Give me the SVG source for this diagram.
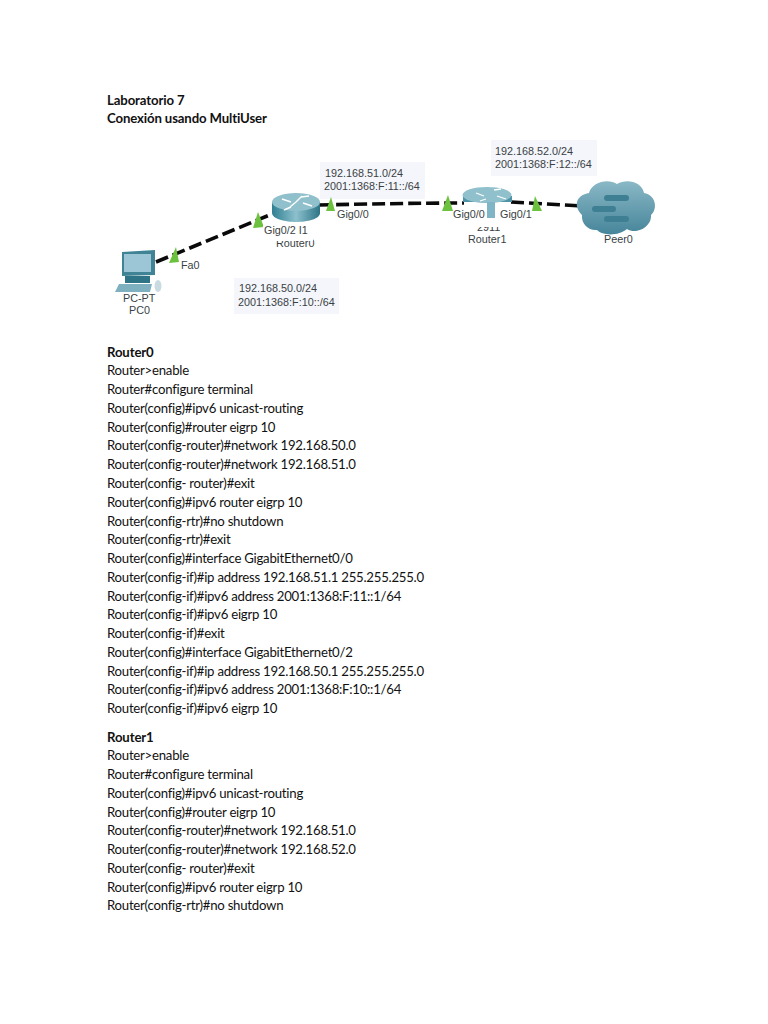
<svg xmlns="http://www.w3.org/2000/svg" width="768" height="1024" viewBox="0 0 768 1024">
<style>
.t{font-family:"Lato","Liberation Sans",sans-serif;font-size:13.2px;letter-spacing:-.25px;fill:#111}
.b{font-weight:700;letter-spacing:-.13px}
.n{font-family:"Liberation Sans",Arial,sans-serif;font-size:10.8px;fill:#3a3f44}
.lab{fill:#f4f6fb}
.w{fill:#fff}
.link{stroke:#0a0a0a;stroke-width:3.6;fill:none;stroke-dasharray:13 5}
.tri{fill:#6cc23f}
</style>
<defs>
<linearGradient id="rg" x1="0" y1="0" x2="1" y2="0"><stop offset="0" stop-color="#2f7f92"/><stop offset=".5" stop-color="#8cc0cc"/><stop offset="1" stop-color="#2c7486"/></linearGradient>
<linearGradient id="cl" x1="0" y1="0" x2="0" y2="1"><stop offset="0" stop-color="#8ab8c6"/><stop offset="1" stop-color="#46859a"/></linearGradient>
</defs>
<rect width="768" height="1024" fill="#fff"/>
<rect class="lab" x="320" y="162" width="105" height="37"/>
<rect class="lab" x="491" y="140" width="106" height="36"/>
<rect class="lab" x="234" y="278" width="105" height="36"/>
<g id="connectors">
<path class="link" d="M156 262L272 214"/>
<path class="link" d="M318 205C370 204 420 203 464 203"/>
<path class="link" d="M511 202L582 206"/>
<polygon class="tri" points="176,247 169,263 179,262"/>
<polygon class="tri" points="258,212 253,228 264,227"/>
<polygon class="tri" points="331,197 326,211 335,211"/>
<polygon class="tri" points="448,195 442,211 453,211"/>
<polygon class="tri" points="535,196 532,211 542,211"/>
</g>
<g id="pc0">
<path d="M122 252L155 250L155 275L122 276Z" fill="#3f8394"/>
<rect x="124" y="254" width="27" height="18" fill="#9cc6d6"/>
<path d="M125 276H150V283H125Z" fill="#2f7386"/>
<path d="M119 284H152L150 292H115Z" fill="#7fb0bf"/>
<ellipse cx="158" cy="286" rx="3.500" ry="6" fill="#c9dbe0"/>
<text class="n" x="123" y="302">PC-PT</text>
<text class="n" x="129" y="314">PC0</text>
<text class="n" x="181" y="269">Fa0</text>
</g>
<g id="router0">
<path d="M272 202V213C272 219 286 222 296 222C307 222 320 219 320 213V202Z" fill="url(#rg)"/>
<ellipse cx="296" cy="202" rx="24" ry="9" fill="#8fc0cc"/>
<path d="M282 199l9 3M291 207l-7 3M301 197l8-1M303 203l9 3M296 202l6-6M296 202l-6 5" stroke="#fff" stroke-width="1.400" fill="none"/>
<text class="n" x="276" y="247">Router0</text>
<rect class="w" x="263" y="224" width="50" height="17"/>
<text class="n" x="264" y="234">Gig0/2 I1</text>
<text class="n" x="337" y="218">Gig0/0</text>
</g>
<g id="router1">
<path d="M463 196V202H512V196Z" fill="#4f94a6"/>
<ellipse cx="487" cy="195" rx="24.500" ry="8" fill="#8fc0cc"/>
<path d="M476 193l8 3M486 199l-6 2M494 190l7-1M497 196l9 3" stroke="#fff" stroke-width="1.300" fill="none"/>
<rect x="487" y="202" width="8" height="16" fill="#7fb5c4"/>
<text class="n" x="477" y="231">2911</text>
<rect class="w" x="470" y="219" width="35" height="8"/>
<text class="n" x="453" y="218">Gig0/0</text>
<text class="n" x="500" y="218">Gig0/1</text>
<text class="n" x="468" y="243">Router1</text>
</g>
<g id="peer0">
<path d="M582 215C573 206 576 195 589 193C592 182 608 178 617 184C627 178 642 182 644 193C656 195 658 209 651 215C652 227 636 235 627 229C619 236 603 236 597 230C589 231 581 224 582 215Z" fill="url(#cl)"/>
<rect x="604" y="195" width="25" height="6" rx="3" fill="#3f7f93"/>
<rect x="592" y="206" width="24" height="6" rx="3" fill="#3f7f93"/>
<rect x="604" y="216" width="25" height="6" rx="3" fill="#3f7f93"/>
<text class="n" x="604" y="243">Peer0</text>
</g>
<g id="labels">
<text class="n" x="325" y="177">192.168.51.0/24</text>
<text class="n" x="324" y="190">2001:1368:F:11::/64</text>
<text class="n" x="495" y="155">192.168.52.0/24</text>
<text class="n" x="495" y="168">2001:1368:F:12::/64</text>
<text class="n" x="239" y="292">192.168.50.0/24</text>
<text class="n" x="238" y="306">2001:1368:F:10::/64</text>
</g>
<g id="document">
<text class="t b" x="107" y="105">Laboratorio 7</text>
<text class="t b" x="107" y="123">Conexión usando MultiUser</text>
<text class="t b" x="107" y="357">Router0</text>
<text class="t" x="107" y="375">Router&gt;enable</text>
<text class="t" x="107" y="394">Router#configure terminal</text>
<text class="t" x="107" y="413">Router(config)#ipv6 unicast-routing</text>
<text class="t" x="107" y="431.500">Router(config)#router eigrp 10</text>
<text class="t" x="107" y="450">Router(config-router)#network 192.168.50.0</text>
<text class="t" x="107" y="469">Router(config-router)#network 192.168.51.0</text>
<text class="t" x="107" y="488">Router(config- router)#exit</text>
<text class="t" x="107" y="507">Router(config)#ipv6 router eigrp 10</text>
<text class="t" x="107" y="525.500">Router(config-rtr)#no shutdown</text>
<text class="t" x="107" y="544">Router(config-rtr)#exit</text>
<text class="t" x="107" y="563">Router(config)#interface GigabitEthernet0/0</text>
<text class="t" x="107" y="582">Router(config-if)#ip address 192.168.51.1 255.255.255.0</text>
<text class="t" x="107" y="600.500">Router(config-if)#ipv6 address 2001:1368:F:11::1/64</text>
<text class="t" x="107" y="619">Router(config-if)#ipv6 eigrp 10</text>
<text class="t" x="107" y="638">Router(config-if)#exit</text>
<text class="t" x="107" y="657">Router(config)#interface GigabitEthernet0/2</text>
<text class="t" x="107" y="675.500">Router(config-if)#ip address 192.168.50.1 255.255.255.0</text>
<text class="t" x="107" y="694">Router(config-if)#ipv6 address 2001:1368:F:10::1/64</text>
<text class="t" x="107" y="713">Router(config-if)#ipv6 eigrp 10</text>
<text class="t b" x="107" y="741.500">Router1</text>
<text class="t" x="107" y="760">Router&gt;enable</text>
<text class="t" x="107" y="779">Router#configure terminal</text>
<text class="t" x="107" y="798">Router(config)#ipv6 unicast-routing</text>
<text class="t" x="107" y="816.500">Router(config)#router eigrp 10</text>
<text class="t" x="107" y="835">Router(config-router)#network 192.168.51.0</text>
<text class="t" x="107" y="854">Router(config-router)#network 192.168.52.0</text>
<text class="t" x="107" y="873">Router(config- router)#exit</text>
<text class="t" x="107" y="891.500">Router(config)#ipv6 router eigrp 10</text>
<text class="t" x="107" y="910">Router(config-rtr)#no shutdown</text>
</g>
</svg>
